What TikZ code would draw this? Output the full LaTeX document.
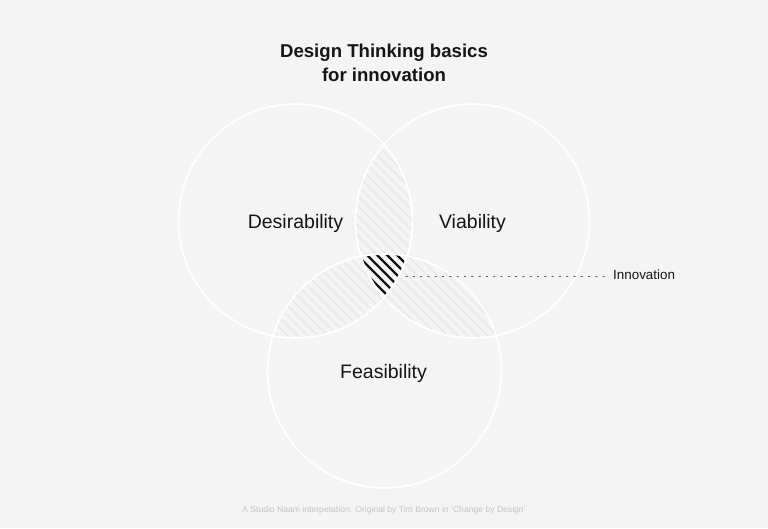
\documentclass[tikz,border=0pt]{standalone}
\usepackage{fontspec}
\setmainfont{Liberation Sans}
\usetikzlibrary{positioning}
\definecolor{canvas}{HTML}{F4F4F4}
\definecolor{hatchgray}{HTML}{E7E7E7}
\definecolor{inkblack}{HTML}{151515}
\definecolor{notegray}{HTML}{C4C4C4}
\definecolor{leadgray}{HTML}{5A5A5A}
\tikzset{
    ring/.style={draw=white, line width=1.6pt},
    hatchlight/.style={draw=hatchgray, line width=1.4pt},
    hatchdark/.style={draw=inkblack, line width=2.2pt},
    settext/.style={anchor=base, inner sep=0pt, text=inkblack, font=\fontsize{19.5}{22}\selectfont},
    titletext/.style={anchor=base, inner sep=0pt, text=inkblack, font=\fontsize{18.6}{24}\selectfont\bfseries},
    leader/.style={draw=leadgray, line width=1.2pt, dash pattern=on 1.2pt off 6.1pt, line cap=round}
}

\begin{document}
\begin{tikzpicture}[x=1pt, y=-1pt]
    \fill[canvas] (0,0) rectangle (768,528);
    \useasboundingbox (0,0) rectangle (768,528);

    % circle centres
    \coordinate (desir) at (295.5,221);
    \coordinate (viab) at (472.5,221);
    \coordinate (feas) at (384.5,371);

    % pairwise overlaps
    \foreach \a/\b in {desir/viab, desir/feas, viab/feas} {
        \begin{scope}
            \clip (\a) circle (117pt);
            \clip (\b) circle (117pt);
            \foreach \c in {-560,-550,...,760}
                \draw[hatchlight] (\c+2,0) -- (\c+530,528);
        \end{scope}
    }

    % triple overlap
    \begin{scope}
        \clip (desir) circle (117pt);
        \clip (viab) circle (117pt);
        \clip (feas) circle (117pt);
        \foreach \c in {-560,-550,...,760}
            \draw[hatchdark] (\c+2,0) -- (\c+530,528);
    \end{scope}

    \draw[ring] (desir) circle (117pt);
    \draw[ring] (viab) circle (117pt);
    \draw[ring] (feas) circle (117pt);

    \node[titletext] (title1) at (384,57.7) {Design Thinking basics};
    \node[titletext] (title2) at (384,81.7) {for innovation};

    \node[settext] (desirlabel) at (295.5,228) {Desirability};
    \node[settext] (viablabel) at (472.5,228) {Viability};
    \node[settext] (feaslabel) at (383.5,378) {Feasibility};

    \node[anchor=base west, inner sep=0pt, text=inkblack, font=\fontsize{13.4}{16}\selectfont] (innov) at (613,279.5) {Innovation};
    \coordinate (innovstart) at (406,276.7);
    \draw[leader, shorten >=8pt] (innovstart) -- (innovstart -| innov.west);

    \node[anchor=base, inner sep=0pt, text=notegray, font=\fontsize{8.6}{10}\selectfont] (credit) at (384,512) {A Studio Naam interpetation. Original by Tim Brown in ‘Change by Design’};
\end{tikzpicture}
\end{document}
